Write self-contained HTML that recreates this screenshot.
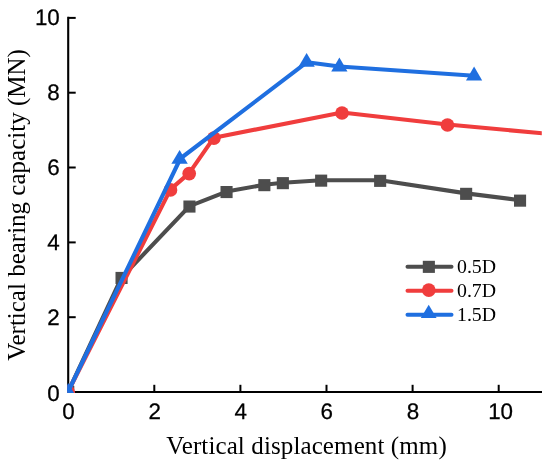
<!DOCTYPE html><html><head><meta charset="utf-8"><title>Chart</title><style>html,body{margin:0;padding:0;background:#fff}svg{display:block}text{fill:#000}</style></head><body>
<svg width="550" height="466" viewBox="0 0 550 466">
<rect width="550" height="466" fill="#fff"/>
<defs><clipPath id="cp"><rect x="67.15" y="0" width="474.65" height="393.05"/></clipPath></defs>
<g stroke="#000" stroke-width="2.1" fill="none" stroke-linecap="butt">
<path d="M68.2 16.8 V393.1"/>
<path d="M67.1 392.0 H542.0"/>
<path d="M154.3 392.0 V384.8" stroke-width="2"/>
<path d="M68.2 317.2 H75.7" stroke-width="2"/>
<path d="M240.4 392.0 V384.8" stroke-width="2"/>
<path d="M68.2 242.4 H75.7" stroke-width="2"/>
<path d="M326.5 392.0 V384.8" stroke-width="2"/>
<path d="M68.2 167.5 H75.7" stroke-width="2"/>
<path d="M412.6 392.0 V384.8" stroke-width="2"/>
<path d="M68.2 92.7 H75.7" stroke-width="2"/>
<path d="M498.7 392.0 V384.8" stroke-width="2"/>
<path d="M68.2 17.9 H75.7" stroke-width="2"/>
</g>
<g clip-path="url(#cp)">
<polyline transform="translate(0,-0.5)" fill="none" stroke="#4d4d4d" stroke-width="4.1" stroke-linejoin="round" points="68.2,392.0 121.5,278.0 189.5,206.6 226.6,192.1 264.4,185.2 282.9,183.2 321.2,180.7 380.2,180.8 466.2,193.9 520.0,200.7"/>
<rect x="62.2" y="385.9" width="12.1" height="12.1" fill="#4d4d4d"/>
<rect x="115.5" y="271.9" width="12.1" height="12.1" fill="#4d4d4d"/>
<rect x="183.4" y="200.5" width="12.1" height="12.1" fill="#4d4d4d"/>
<rect x="220.5" y="186.0" width="12.1" height="12.1" fill="#4d4d4d"/>
<rect x="258.3" y="179.1" width="12.1" height="12.1" fill="#4d4d4d"/>
<rect x="276.8" y="177.1" width="12.1" height="12.1" fill="#4d4d4d"/>
<rect x="315.1" y="174.6" width="12.1" height="12.1" fill="#4d4d4d"/>
<rect x="374.1" y="174.8" width="12.1" height="12.1" fill="#4d4d4d"/>
<rect x="460.1" y="187.8" width="12.1" height="12.1" fill="#4d4d4d"/>
<rect x="514.0" y="194.6" width="12.1" height="12.1" fill="#4d4d4d"/>
<polyline transform="translate(0,-0.5)" fill="none" stroke="#f03d3d" stroke-width="4.1" stroke-linejoin="round" points="68.2,392.0 170.5,189.9 189.2,173.6 213.9,138.2 342.0,113.0 447.5,125.0 600.0,139.1"/>
<circle cx="68.2" cy="392.0" r="6.85" fill="#f03d3d"/>
<circle cx="170.5" cy="189.9" r="6.85" fill="#f03d3d"/>
<circle cx="189.2" cy="173.6" r="6.85" fill="#f03d3d"/>
<circle cx="213.9" cy="138.2" r="6.85" fill="#f03d3d"/>
<circle cx="342.0" cy="113.0" r="6.85" fill="#f03d3d"/>
<circle cx="447.5" cy="125.0" r="6.85" fill="#f03d3d"/>
<circle cx="600.0" cy="139.1" r="6.85" fill="#f03d3d"/>
<polyline transform="translate(0,-0.5)" fill="none" stroke="#1f6fe0" stroke-width="4.1" stroke-linejoin="round" points="68.2,392.0 180.4,159.0 307.0,62.7 339.4,67.0 474.1,76.2"/>
<polygon points="68.2,383.1 60.1,396.9 76.4,396.9" fill="#1f6fe0"/>
<polygon points="179.6,150.1 171.4,163.8 187.8,163.8" fill="#1f6fe0"/>
<polygon points="306.6,52.9 298.5,66.8 314.8,66.8" fill="#1f6fe0"/>
<polygon points="339.4,57.6 331.2,71.4 347.5,71.4" fill="#1f6fe0"/>
<polygon points="474.1,66.6 466.0,80.4 482.2,80.4" fill="#1f6fe0"/>
</g>
<g font-family="'Liberation Sans',Arial,sans-serif" font-size="22.4" text-rendering="geometricPrecision" stroke="#000" stroke-width="0.25">
<text transform="translate(68.5,419.2)" text-anchor="middle">0</text>
<text transform="translate(59.8,400.5)" text-anchor="end">0</text>
<text transform="translate(154.6,419.2)" text-anchor="middle">2</text>
<text transform="translate(59.8,324.6)" text-anchor="end">2</text>
<text transform="translate(240.7,419.2)" text-anchor="middle">4</text>
<text transform="translate(59.8,249.8)" text-anchor="end">4</text>
<text transform="translate(326.8,419.2)" text-anchor="middle">6</text>
<text transform="translate(59.8,174.9)" text-anchor="end">6</text>
<text transform="translate(412.9,419.2)" text-anchor="middle">8</text>
<text transform="translate(59.8,100.1)" text-anchor="end">8</text>
<text transform="translate(500.6,419.2)" text-anchor="middle">10</text>
<text transform="translate(59.8,24.8)" text-anchor="end">10</text>
</g>
<g font-family="'Liberation Serif','Times New Roman',serif" font-size="25">
<text x="306.6" y="453.6" text-anchor="middle" letter-spacing="0.11">Vertical displacement (mm)</text>
<text transform="translate(24.5,205) rotate(-90)" text-anchor="middle">Vertical bearing capacity (MN)</text>
</g>
<g font-family="'Liberation Serif','Times New Roman',serif" font-size="19.8">
<line x1="407.5" x2="451.5" y1="266.7" y2="266.7" stroke="#4d4d4d" stroke-width="4" stroke-linecap="round"/>
<rect x="422.8" y="260.8" width="12.1" height="12.1" fill="#4d4d4d"/>
<text x="457" y="273.4">0.5D</text>
<line x1="407.5" x2="451.5" y1="290.7" y2="290.7" stroke="#f03d3d" stroke-width="4" stroke-linecap="round"/>
<circle cx="428.8" cy="290.1" r="6.85" fill="#f03d3d"/>
<text x="457" y="297.4">0.7D</text>
<line x1="407.5" x2="451.5" y1="314.7" y2="314.7" stroke="#1f6fe0" stroke-width="4" stroke-linecap="round"/>
<polygon points="428.7,304.8 420.8,318.0 436.6,318.0" fill="#1f6fe0"/>
<text x="457" y="321.4">1.5D</text>
</g>
</svg></body></html>
